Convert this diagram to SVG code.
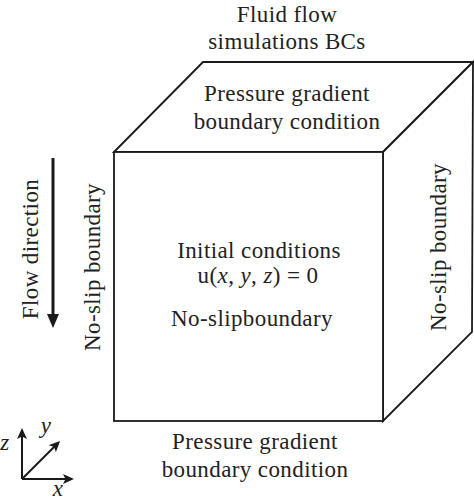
<svg xmlns="http://www.w3.org/2000/svg" width="474" height="504" viewBox="0 0 474 504">
<style>
text{font-family:"Liberation Serif","Times New Roman",serif;font-size:23px;fill:#222;text-anchor:middle;letter-spacing:0.4px}
.face{fill:#fff;stroke:#1a1a1a;stroke-width:1.8;stroke-linejoin:miter}
.ax{stroke:#1a1a1a;stroke-width:2;fill:none}
.it{font-style:italic}
</style>
<defs>
<marker id="ah" markerWidth="11" markerHeight="10" refX="8" refY="5" orient="auto" markerUnits="userSpaceOnUse"><path d="M0,0 L11,5 L0,10 L2.5,5 z" fill="#1a1a1a"/></marker>
</defs>
<g id="title"><text x="287" y="22">Fluid flow</text><text x="287" y="49">simulations BCs</text></g>
<g id="cube">
<polygon id="top-face" class="face" points="114,152 203,62 473,62 383,152"/>
<polygon id="right-face" class="face" points="383,152 473,62 472,332 383,421"/>
<rect id="front-face" class="face" x="114" y="152" width="269" height="269"/>
</g>
<g id="top-label"><text x="287" y="101">Pressure gradient</text><text x="287" y="129">boundary condition</text></g>
<g id="front-label"><text x="259" y="258">Initial conditions</text>
<text x="258" y="283">u(<tspan class="it">x</tspan>, <tspan class="it">y</tspan>, <tspan class="it">z</tspan>) = 0</text>
<text x="252" y="326">No-slipboundary</text></g>
<g id="left-label"><text transform="translate(100,267) rotate(-90)">No-slip boundary</text></g>
<g id="right-label"><text transform="translate(446,247) rotate(-90)">No-slip boundary</text></g>
<g id="bottom-label"><text x="255" y="449">Pressure gradient</text><text x="255" y="477">boundary condition</text></g>
<g id="flow"><text transform="translate(38,249) rotate(-90)">Flow direction</text>
<line x1="53" y1="158" x2="53" y2="316" stroke="#1a1a1a" stroke-width="3"/>
<path d="M47,314 L59,314 L53,328 z" fill="#1a1a1a"/></g>
<g id="axes">
<line class="ax" x1="22" y1="479" x2="22" y2="431" marker-end="url(#ah)"/>
<line class="ax" x1="22" y1="479" x2="71" y2="479" marker-end="url(#ah)"/>
<line class="ax" x1="22" y1="479" x2="58" y2="443" marker-end="url(#ah)"/>
<text class="it" x="5" y="450">z</text>
<text class="it" x="46" y="433">y</text>
<text class="it" x="58" y="496">x</text>
</g>
</svg>
